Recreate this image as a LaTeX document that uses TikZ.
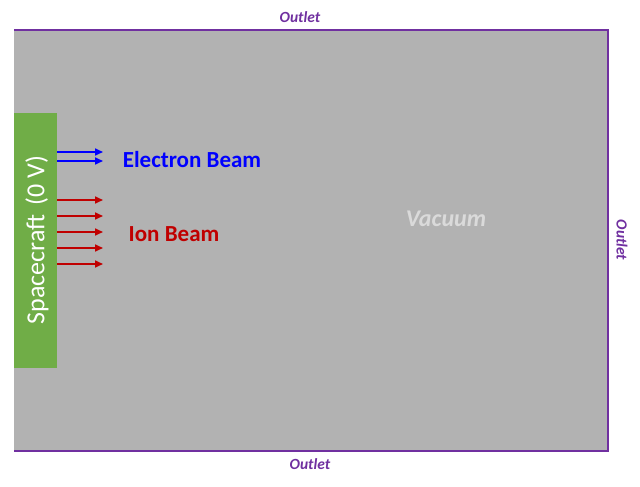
\documentclass[tikz,border=0pt]{standalone}
\usepackage{fontspec}
\setmainfont{Carlito}
\usetikzlibrary{arrows.meta}
\definecolor{boxgray}{HTML}{B2B2B2}
\definecolor{outletpurple}{HTML}{7030A0}
\definecolor{scgreen}{HTML}{70AD47}
\definecolor{ionred}{HTML}{C00000}
\definecolor{vactext}{HTML}{DADADA}
\tikzset{
  outletline/.style={draw=outletpurple, line width=2.4pt},
  outletlabel/.style={text=outletpurple, font=\fontsize{15.5}{15.5}\selectfont\bfseries\itshape, inner sep=0pt},
  ebeam/.style={draw=blue, line width=1.6pt, -{Triangle[length=8pt,width=7pt]}},
  ibeam/.style={draw=ionred, line width=1.6pt, -{Triangle[length=8pt,width=7pt]}},
  beamlabel/.style={font=\fontsize{23}{23}\selectfont\bfseries, inner sep=0pt},
}
\begin{document}
\begin{tikzpicture}[x=1pt,y=-1pt]
\useasboundingbox (0,0) rectangle (640,487);
\fill[white] (0,0) rectangle (640,487);
% chamber
\fill[boxgray] (14,30) rectangle (608,451);
\coordinate (tl) at (14,30);
\coordinate (tr) at (608,30);
\coordinate (br) at (608,451);
\coordinate (bl) at (14,451);
\draw[outletline] (tl) -- (tr) -- (br) -- (bl);
\node[outletlabel] (otop) at (300,17) {Outlet};
\node[outletlabel, rotate=-90] (oright) at (622,240) {Outlet};
\node[outletlabel] (obot) at (310,464) {Outlet};
% spacecraft
\node[fill=scgreen, minimum width=43pt, minimum height=255pt, inner sep=0pt, anchor=north west] (sc) at (14,113) {};
\node[rotate=90, text=white, font=\fontsize{26}{26}\selectfont, inner sep=0pt] (sclabel) at (37,240) {Spacecraft\hspace{0.35em}(0 V)};
% electron beam
\coordinate (e1s) at (57,152); \coordinate (e1e) at (103,152);
\coordinate (e2s) at (57,161); \coordinate (e2e) at (103,161);
\draw[ebeam] (e1s) -- (e1e);
\draw[ebeam] (e2s) -- (e2e);
\node[beamlabel, text=blue] (elabel) at (192,160) {Electron Beam};
% ion beam
\foreach \y [count=\i] in {200,216,232,248,264} {
  \coordinate (i\i s) at (57,\y);
  \coordinate (i\i e) at (103,\y);
  \draw[ibeam] (i\i s) -- (i\i e);
}
\node[beamlabel, text=ionred] (ilabel) at (174,234) {Ion Beam};
% vacuum
\node[text=vactext, font=\fontsize{24}{24}\selectfont\bfseries\itshape, inner sep=0pt] (vac) at (446,219) {Vacuum};
\end{tikzpicture}
\end{document}
